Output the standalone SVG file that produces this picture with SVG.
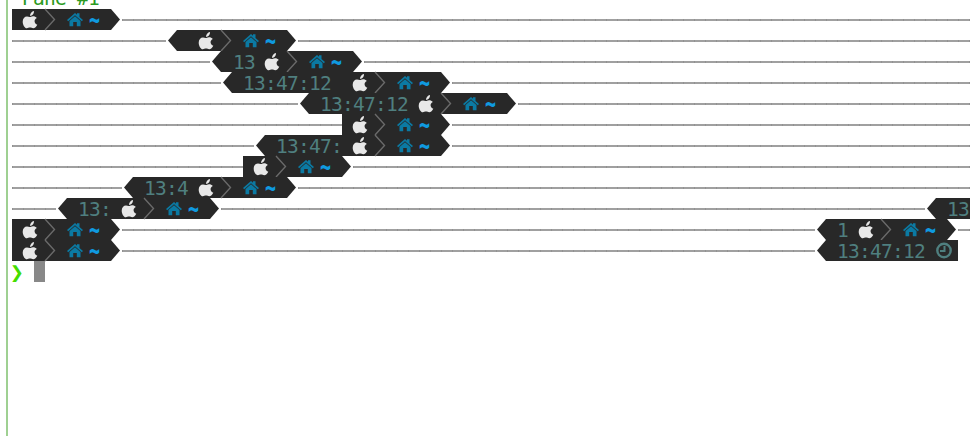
<svg xmlns="http://www.w3.org/2000/svg" xmlns:xlink="http://www.w3.org/1999/xlink" width="970" height="436" viewBox="0 0 970 436">
<style>
text{font-family:"DejaVu Sans Mono","Liberation Mono",monospace;font-size:19.5px;letter-spacing:-.74px}
.t{fill:#4f7f7f}
.b{fill:#282828}
.tl{fill:#0f9ae0;font-weight:bold;font-size:18.3px;letter-spacing:0}
.ch{fill:none;stroke:#6a6a6a;stroke-width:1.4}
.ap{fill:#e8e8e8}
.ho{fill:#0b7aa3}
</style>
<defs>
<path id="rules" d="M122 20H970M12 41H166M298 41H970M12 62H210M364 62H970M12 83H221M452 83H970M12 104H298M518 104H970M12 125H342M452 125H970M12 146H254M452 146H970M12 167H243M353 167H970M12 188H122M298 188H970M12 209H56M221 209H925M122 230H815M958 230H970M122 251H815"/>
<g id="pr">
<path class="ap" d="M.5-2.600C2.500-3.600 5.400-3.400 6.800-1.400 5-.4 4.500.8 4.600 2 4.700 3.600 5.800 4.700 7.300 5.200 6.500 7 4.800 8.800 3.200 8.800 2 8.800 1.300 8.100 0 8.100-1.300 8.100-2 8.800-3.200 8.800-5.200 8.800-7.300 5.300-7.300 2.200-7.300-1-5.400-3-3-3-1.800-3-.6-2.200.5-2.600ZM0-3.600C-.1-6 1.800-8.200 4-8.600 4.200-6 2.300-3.800 0-3.600Z"/>
<path class="ch" d="M15-10.500L24.500 0 15 10.500"/>
<path class="ho" d="M45-6.500L47-4.700V-6.200H49.500V-2.500L53 .5 51.800 1.800 45-4.200 38.200 1.800 37 .5ZM39.500 1.600L45-3.200 50.500 1.600V6.800H46.800V2.500H43.200V6.800H39.500Z"/>
<text class="tl" transform="translate(59,10.400) scale(1,1.6)">~</text>
</g>
</defs>
<rect width="970" height="436" fill="#fff"/>
<rect x="6" y="0" width="2" height="436" fill="#9fd092"/>
<text x="22" y="5" fill="#2a9a22">Pane #1</text>

<g id="connectors" fill="none">
<use xlink:href="#rules" href="#rules" stroke="#a0a0a0" stroke-width="2"/>
<use xlink:href="#rules" href="#rules" stroke="#929292" stroke-width="2" stroke-dasharray="1 10"/>
</g>

<g id="row1"><path class="b" d="M12 9H111L120 19.500 111 30H12Z"/><use href="#pr" x="30" y="19.500"/></g>
<g id="row2"><path class="b" d="M177 30H287L296 40.500 287 51H177L168 40.500Z"/><use href="#pr" x="206" y="40.500"/></g>
<g id="row3"><path class="b" d="M221 51H353L362 61.500 353 72H221L212 61.500Z"/><text class="t" x="233" y="69">13</text><use href="#pr" x="272" y="61.500"/></g>
<g id="row4"><path class="b" d="M232 72H441L450 82.500 441 93H232L223 82.500Z"/><text class="t" x="243" y="90">13:47:12</text><use href="#pr" x="360" y="82.500"/></g>
<g id="row5"><path class="b" d="M309 93H507L516 103.500 507 114H309L300 103.500Z"/><text class="t" x="320" y="111">13:47:12</text><use href="#pr" x="426" y="103.500"/></g>
<g id="row6"><path class="b" d="M342 114H441L450 124.500 441 135H342Z"/><use href="#pr" x="360" y="124.500"/></g>
<g id="row7"><path class="b" d="M265 135H441L450 145.500 441 156H265L256 145.500Z"/><text class="t" x="276" y="153">13:47:</text><use href="#pr" x="360" y="145.500"/></g>
<g id="row8"><path class="b" d="M243 156H342L351 166.500 342 177H243Z"/><use href="#pr" x="261" y="166.500"/></g>
<g id="row9"><path class="b" d="M133 177H287L296 187.500 287 198H133L124 187.500Z"/><text class="t" x="144" y="195">13:4</text><use href="#pr" x="206" y="187.500"/></g>
<g id="row10"><path class="b" d="M67 198H210L219 208.500 210 219H67L58 208.500Z"/><text class="t" x="78" y="216">13:</text><use href="#pr" x="129" y="208.500"/></g>
<g id="row10r"><path class="b" d="M936 198H970V219H936L927 208.500Z"/><text class="t" x="947" y="216">13</text></g>
<g id="row11"><path class="b" d="M12 219H111L120 229.500 111 240H12Z"/><use href="#pr" x="30" y="229.500"/></g>
<g id="row11r"><path class="b" d="M826 219H947L956 229.500 947 240H826L817 229.500Z"/><text class="t" x="837" y="237">1</text><use href="#pr" x="866" y="229.500"/></g>
<g id="row12"><path class="b" d="M12 240H111L120 250.500 111 261H12Z"/><use href="#pr" x="30" y="250.500"/></g>
<g id="row12r"><path class="b" d="M826 240H958V261H826L817 250.500Z"/><text class="t" x="837" y="258">13:47:12</text>
<circle cx="944" cy="250.500" r="6.700" fill="none" stroke="#4f7f7f" stroke-width="2.400"/><path d="M944.500 246V251H940" fill="none" stroke="#4f7f7f" stroke-width="2"/></g>
<g id="prompt"><text x="10" y="280" fill="#44dd00" font-weight="bold" style="font-size:23px;letter-spacing:0">❯</text><rect x="34" y="261" width="11" height="21" fill="#888"/></g>
</svg>
